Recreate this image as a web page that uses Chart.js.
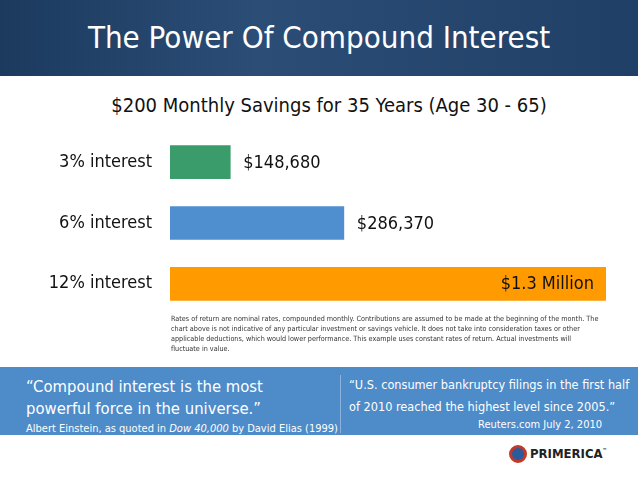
<!DOCTYPE html>
<html><head><meta charset="utf-8">
<script src="https://cdn.jsdelivr.net/npm/chart.js@4"></script>
<style>
body{margin:0;width:638px;height:478px;overflow:hidden;background:#fff;font-family:"DejaVu Sans Condensed","DejaVu Sans",sans-serif;position:relative}
#hdr{position:absolute;left:0;top:0;width:638px;height:76px;background:linear-gradient(90deg,#1c3a5e,#2b4d76 40%,#203f66);}
#hdr div{position:absolute;left:0;width:638px;top:19px;text-align:center;color:#fff;font-size:31px}
#sub{position:absolute;left:0;width:638px;top:93px;text-align:center;font-size:20px;color:#111;padding-left:10px}
#wrap{position:absolute;left:0;top:111px;width:638px;height:224px}
#note{position:absolute;left:171px;top:314px;width:430px;font-size:7.2px;line-height:10px;color:#333}
#band{position:absolute;left:0;top:367px;width:638px;height:68px;background:#4e8bc9;color:#fff}
#sep{position:absolute;left:340px;top:8px;width:1px;height:58px;background:#8ab2dc}
.q{position:absolute;font-size:16.5px;line-height:22px;white-space:nowrap}
.s{position:absolute;font-size:11px;white-space:nowrap}
#logo{position:absolute;left:509px;top:445px;font-size:13px;font-weight:bold;color:#222}
#logo span{display:inline-block;width:18px;height:18px;border-radius:50%;border:3px solid #c0392b;box-sizing:border-box;vertical-align:middle;margin-right:3px;background:#2a5b9a}
</style></head><body>
<div id="hdr"><div>The Power Of Compound Interest</div></div>
<div id="sub">$200 Monthly Savings for 35 Years (Age 30 - 65)</div>
<div id="wrap"><canvas id="c" width="638" height="224"></canvas></div>
<div id="note">Rates of return are nominal rates, compounded monthly. Contributions are assumed to be made at the beginning of the month. The chart above is not indicative of any particular investment or savings vehicle. It does not take into consideration taxes or other applicable deductions, which would lower performance. This example uses constant rates of return. Actual investments will fluctuate in value.</div>
<div id="band"><div id="sep"></div>
<div class="q" style="left:26px;top:9px">“Compound interest is the most<br>powerful force in the universe.”</div>
<div class="s" style="left:26px;top:55px">Albert Einstein, as quoted in <i>Dow 40,000</i> by David Elias (1999)</div>
<div class="q" style="left:349px;top:7px;font-size:12.6px">“U.S. consumer bankruptcy filings in the first half<br>of 2010 reached the highest level since 2005.”</div>
<div class="s" style="left:478px;top:51px">Reuters.com July 2, 2010</div>
</div>
<div id="logo"><span></span>PRIMERICA<sup style="font-size:5px">™</sup></div>
<script>
const categories = ['3% interest', '6% interest', '12% interest'];
const totals = [148680, 286370, 1300000];
const valueLabels = ['$148,680', '$286,370', '$1.3 Million'];
const barColors = ['#3a9c6a', '#4f8fd0', '#ff9a00'];
const FONT = '"DejaVu Sans Condensed", "DejaVu Sans", sans-serif';

const valuePlugin = {
  id: 'vals',
  afterDatasetsDraw(chart) {
    const ctx = chart.ctx;
    ctx.save();
    ctx.font = '18px ' + FONT;
    ctx.fillStyle = '#111';
    ctx.textBaseline = 'middle';
    chart.getDatasetMeta(0).data.forEach((bar, i) => {
      if (i === totals.length - 1) {
        ctx.textAlign = 'right';
        ctx.fillText(valueLabels[i], bar.x - 12, bar.y + 1);
      } else {
        ctx.textAlign = 'left';
        ctx.fillText(valueLabels[i], bar.x + 13, bar.y + 1);
      }
    });
    ctx.restore();
  }
};

new Chart(document.getElementById('c'), {
  type: 'bar',
  data: { labels: categories, datasets: [{ data: totals, backgroundColor: barColors, barThickness: 33 }] },
  options: {
    indexAxis: 'y', responsive: false, animation: false,
    layout: { padding: { right: 32 } },
    plugins: { legend: { display: false }, tooltip: { enabled: false } },
    scales: {
      x: { type: 'logarithmic', min: 105000, max: 1300000, display: false },
      y: {
        grid: { display: false }, border: { display: false },
        ticks: { color: '#111', font: { size: 18, family: FONT }, padding: 10 },
        afterFit: s => { s.width = 170; }
      }
    }
  },
  plugins: [valuePlugin]
});
</script>
</body></html>
